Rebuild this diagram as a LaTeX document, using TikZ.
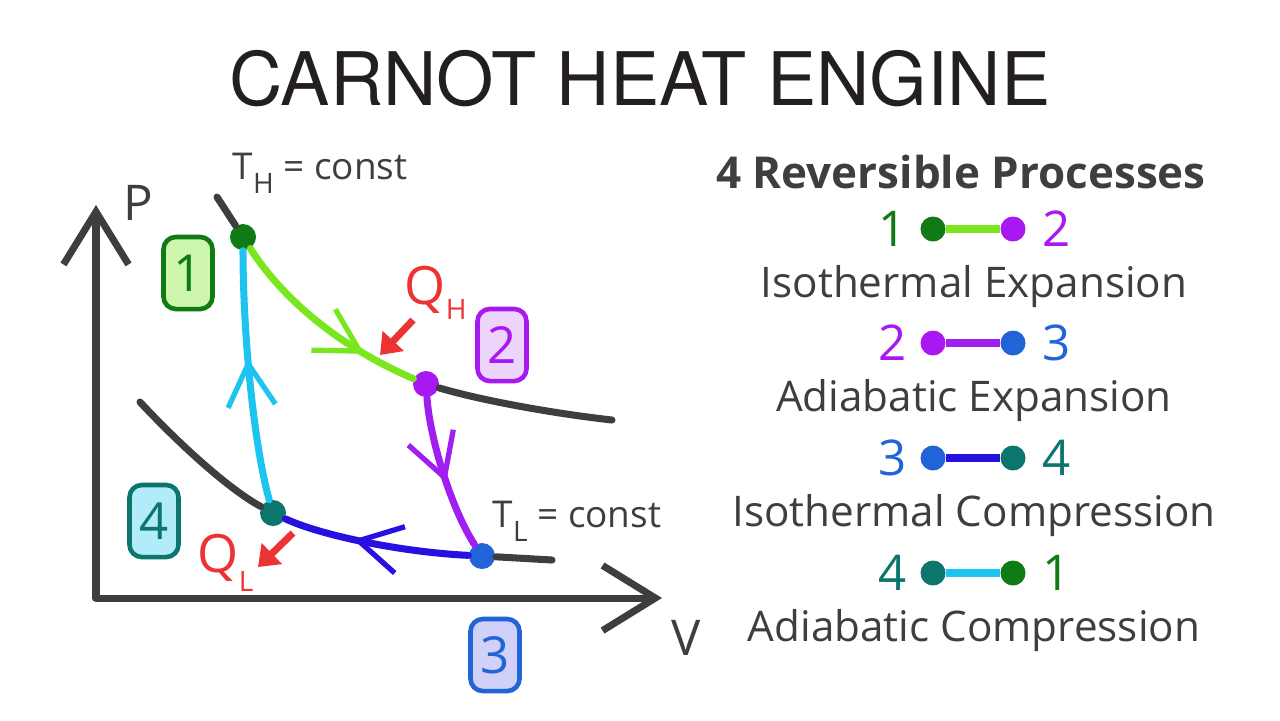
\documentclass[tikz,border=0pt]{standalone}
\usepackage{fontspec}
\setmainfont{Open Sans}
\newfontfamily\titlefont{TeX Gyre Heros}
\usetikzlibrary{arrows.meta, decorations.markings}

\definecolor{ink}{RGB}{62,62,62}
\definecolor{titleink}{RGB}{35,31,32}
\definecolor{cA}{RGB}{16,122,20}
\definecolor{cB}{RGB}{168,24,240}
\definecolor{cC}{RGB}{32,100,216}
\definecolor{cD}{RGB}{12,118,108}
\definecolor{lAB}{RGB}{122,230,30}
\definecolor{lBC}{RGB}{160,30,240}
\definecolor{lCD}{RGB}{40,16,224}
\definecolor{lDA}{RGB}{30,196,240}
\definecolor{heat}{RGB}{236,50,50}
\definecolor{fA}{RGB}{206,246,172}
\definecolor{fB}{RGB}{236,212,250}
\definecolor{fC}{RGB}{208,208,248}
\definecolor{fD}{RGB}{178,236,250}

\newcommand\lowsub[2][4pt]{\raisebox{-#1}{\fontsize{8}{8}\selectfont #2}}

\tikzset{
  midarrow/.style={postaction={decorate}, decoration={markings,
      mark=at position #1 with {\arrow{Straight Barb[length=12pt, width=13.5pt, line width=1.5pt]}}}},
  numbox/.style={draw, rounded corners=3.5pt, line width=1.3pt, minimum width=0.49cm, minimum height=0.72cm, inner sep=0pt, font=\fontsize{14.5}{14.5}\selectfont},
}

\begin{document}
\begin{tikzpicture}[x=0.01cm, y=-0.01cm,
    every node/.style={text=ink},
    pt/.style={circle, fill=#1, inner sep=0pt, minimum size=0.26cm},
    curve/.style={line width=2pt, line cap=round},
    axis/.style={draw=ink, line width=2pt, line cap=round, line join=round},
    heatflow/.style={draw=heat, line width=2pt, -{Triangle[length=5.5pt, width=8pt]}}]
  \useasboundingbox (0,0) rectangle (1280,720);

  % title
  \node[text=titleink, font=\titlefont\fontsize{21}{21}\selectfont] (title) at (640,79) {CARNOT HEAT ENGINE};

  % axes
  \coordinate (yend) at (96,205);
  \coordinate (org) at (96,598);
  \coordinate (xend) at (662,598);
  \draw[axis, {Straight Barb[length=15pt, width=18.5pt]}-{Straight Barb[length=15pt, width=18.5pt]}] (yend) -- (org) -- (xend);
  \node[font=\fontsize{14}{14}\selectfont] (P) at (138,203) {P};
  \node[font=\fontsize{14}{14}\selectfont] (V) at (686,638) {V};

  % corner states
  \node[pt=cA] (p1) at (243,237) {};
  \node[pt=cB] (p2) at (426,384) {};
  \node[pt=cC] (p3) at (482,556) {};
  \node[pt=cD] (p4) at (273,513) {};
  \coordinate (thA) at (217,197);
  \coordinate (thB) at (612,420);
  \coordinate (tlA) at (140,402);
  \coordinate (tlB) at (552,560);

  % isotherms
  \draw[curve, ink] (thA) -- (p1);
  \draw[curve, ink] (p2) .. controls (480,400) and (550,413) .. (thB);
  \draw[curve, ink] (tlA) .. controls (180,445) and (230,490) .. (p4);
  \draw[curve, ink] (p3) -- (tlB);

  % the cycle
  \draw[curve, lAB, midarrow=0.74] (p1) .. controls (280,295) and (335,345) .. (p2);
  \draw[curve, lBC, midarrow=0.56] (p2) .. controls (430,440) and (452,510) .. (p3);
  \draw[curve, lCD, midarrow=0.62] (p3) .. controls (400,552) and (320,535) .. (p4);
  \draw[curve, lDA, midarrow=0.57] (p4) .. controls (255,450) and (243,340) .. (p1);

  % step numbers
  \node[numbox, draw=cA, fill=fA, text=cA] (b1) at (188,273) {1};
  \node[numbox, draw=cB, fill=fB, text=cB] (b2) at (502,345) {2};
  \node[numbox, draw=cC, fill=fC, text=cC] (b3) at (495,655) {3};
  \node[numbox, draw=cD, fill=fD, text=cD] (b4) at (154,521) {4};

  % temperatures and heat
  \node[anchor=base west, inner sep=0pt, font=\fontsize{10.5}{10.5}\selectfont] (TH) at (232,179) {T\lowsub{H} = const};
  \node[anchor=base west, inner sep=0pt, font=\fontsize{10.5}{10.5}\selectfont] (TL) at (492,527) {T\lowsub{L} = const};
  \node[anchor=base west, inner sep=0pt, text=heat, font=\fontsize{15}{15}\selectfont] (QH) at (404,304) {Q\lowsub[4.5pt]{H}};
  \node[anchor=base west, inner sep=0pt, text=heat, font=\fontsize{15}{15}\selectfont] (QL) at (197,572) {Q\lowsub[5.5pt]{L}};
  \coordinate (qhs) at (413,320);
  \coordinate (qhe) at (380,355);
  \coordinate (qls) at (293,533);
  \coordinate (qle) at (258,567);
  \draw[heatflow] (qhs) -- (qhe);
  \draw[heatflow] (qls) -- (qle);

  % legend
  \node[font=\bfseries\fontsize{12.5}{12.5}\selectfont] (head) at (961,172) {4 Reversible Processes};
  \foreach \a/\b/\ca/\cb/\cl/\y/\txt in {1/2/cA/cB/lAB/229/Isothermal Expansion,
      2/3/cB/cC/lBC/343/Adiabatic Expansion,
      3/4/cC/cD/lCD/458/Isothermal Compression,
      4/1/cD/cA/lDA/573/Adiabatic Compression} {
    \node[text=\ca, font=\fontsize{14}{14}\selectfont] (na\a) at (893,\y) {\a};
    \node[pt=\ca, minimum size=0.25cm] (da\a) at (933,\y) {};
    \node[pt=\cb, minimum size=0.25cm] (db\a) at (1013,\y) {};
    \node[text=\cb, font=\fontsize{14}{14}\selectfont] (nb\a) at (1057,\y) {\b};
    \draw[\cl, line width=2.3pt] (da\a) -- (db\a);
    \node[font=\fontsize{12}{12}\selectfont] (txt\a) at (974,\y+58) {\txt};
  }
\end{tikzpicture}
\end{document}
